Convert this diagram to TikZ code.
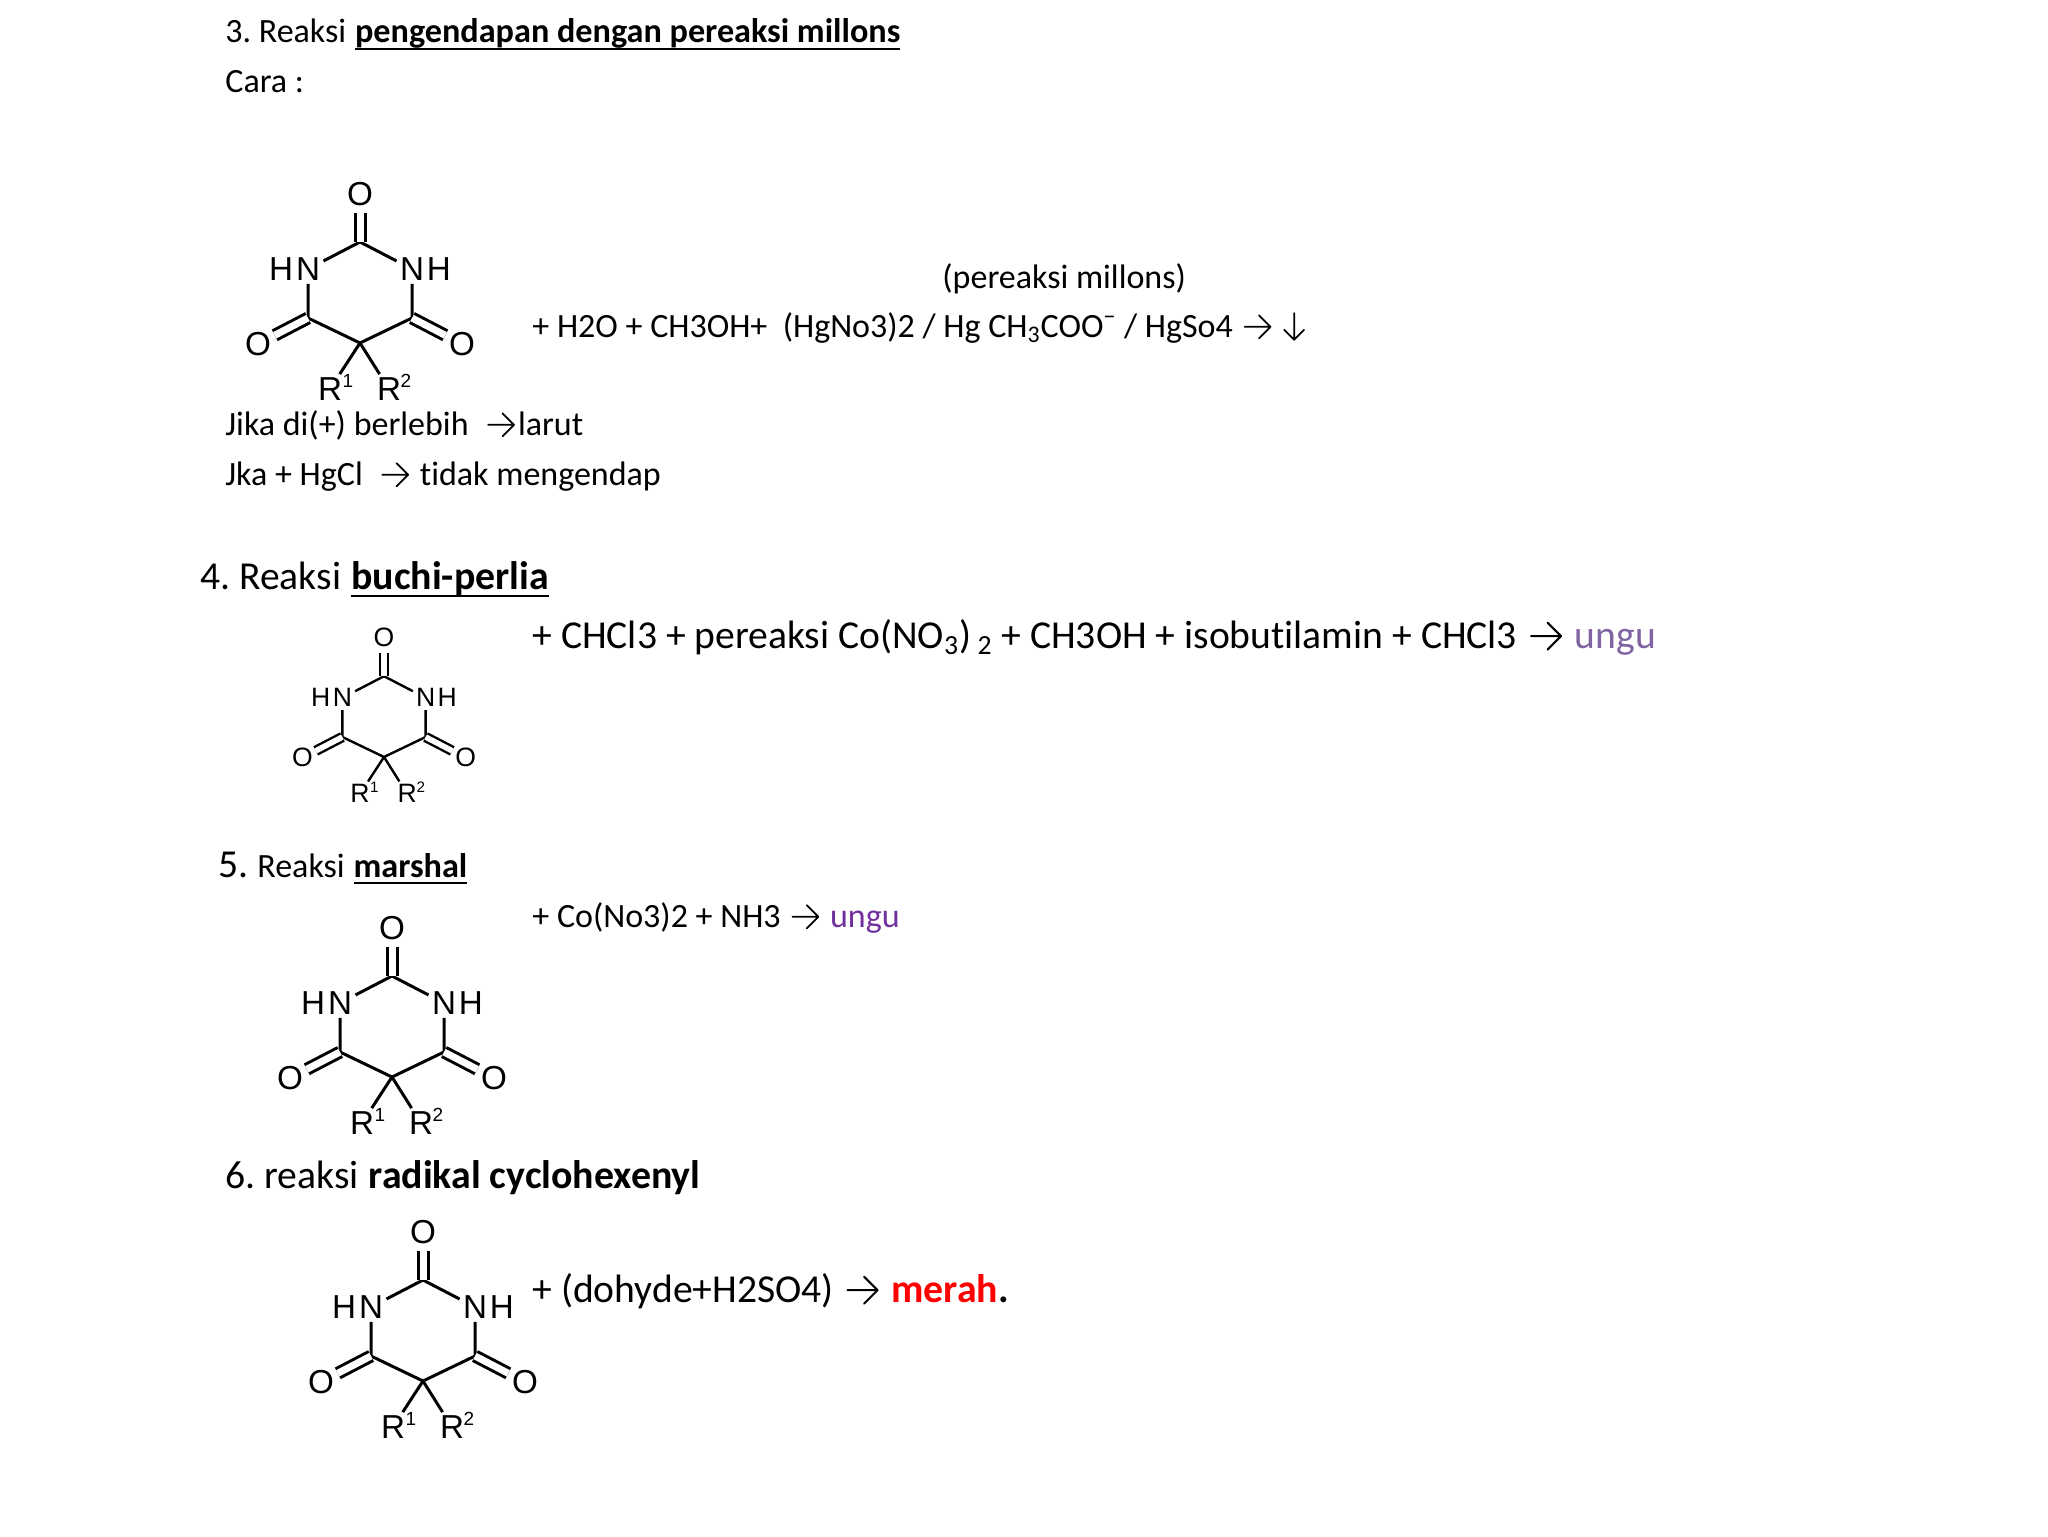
\documentclass[tikz,border=0pt]{standalone}
\usepackage{fontspec}
\setmainfont[Ligatures=NoCommon,BoldFeatures={Scale=1.006}]{Carlito}
\newfontfamily\arial{Liberation Sans}
\definecolor{unguA}{HTML}{8064A2}
\definecolor{unguB}{HTML}{7030A0}
\frenchspacing
\newcommand{\szA}{\fontsize{17}{20}\selectfont}
\newcommand{\szB}{\fontsize{19.8}{24}\selectfont}
\newcommand{\ul}[1]{\leavevmode\hspace{.6pt}\vtop{\hbox{\smash{\textbf{#1}}}\kern.145em\hrule height .05em}}
\newcommand{\ra}{\tikz[baseline=0pt,x=1em,y=1em,line width=.052em]{\useasboundingbox (0,0) rectangle (1,.6);\draw[black,line cap=round,line join=round] (.12,.3)--(.88,.3) (.54,.64)--(.88,.3)--(.54,-.04);}}
\newcommand{\da}{\tikz[baseline=0pt,x=1em,y=1em,line width=.052em]{\useasboundingbox (0,0) rectangle (.7,.6);\draw[black,line cap=round,line join=round] (.35,.7)--(.35,-.08) (.06,.21)--(.35,-.08)--(.64,.21);}}
\tikzset{
  x=0.5pt,y=-0.5pt,
  txt/.style={anchor=base west,inner sep=0pt,text=black},
  atom/.style={inner sep=1pt,text=black},
  oxy/.style={circle,inner sep=0pt,text=black},
  bond/.style={draw=black},
  dbl/.style={bond,double=white}
}
% x, y of the central carbon, scale, name
\newcommand{\barb}[4]{%
\pgfmathsetmacro{\fA}{16.6*#3}\pgfmathsetmacro{\fB}{9.5*#3}%
\begin{scope}[shift={(#1,#2)},scale=#3,name prefix=#4-,line width=#3*1.5pt,
  font=\arial\fontsize{\fA}{\fA}\selectfont,
  dbl/.append style={double distance=#3*3.5pt}]
\coordinate (c5) at (0,0);
\coordinate (c4) at (-52,-25);
\coordinate (c6) at (52,-25);
\coordinate (c2) at (0,-101);
\node[oxy] (o2) at (0,-149) {O};
\node[oxy] (o4) at (-102,1) {O};
\node[oxy] (o6) at (102,1) {O};
\node[atom] (n1) at (-52,-74) {N};
\node[atom,inner sep=0pt,anchor=east,xshift=1pt] (h1) at (n1.west) {H};
\node[atom] (n3) at (52,-74) {N};
\node[atom,inner sep=0pt,anchor=west,xshift=-1pt] (h3) at (n3.east) {H};
\node[atom] (r1) at (-30,46) {R};
\node[atom] (r2) at (29,46) {R};
\node[atom,font=\arial\fontsize{\fB}{\fB}\selectfont] (s1) at (-12,38) {1};
\node[atom,font=\arial\fontsize{\fB}{\fB}\selectfont] (s2) at (46,38) {2};
\draw[bond] (c2) -- (n1);
\draw[bond] (c2) -- (n3);
\draw[bond,line join=round] (n1) -- (c4) -- (c5) -- (c6) -- (n3);
\draw[bond] (c5) -- (r1);
\draw[bond] (c5) -- (r2);
\draw[dbl] (c2) -- (o2);
\draw[dbl] (c4) -- (o4);
\draw[dbl] (c6) -- (o6);
\end{scope}}
\begin{document}
\begin{tikzpicture}
\useasboundingbox[fill=white] (0,0) rectangle (2048,1536);
\node[txt,font=\szA] (t3) at (225,43) {3. Reaksi \ul{pengendapan dengan pereaksi millons}};
\node[txt,font=\szA] (cara) at (225,92) {Cara :};
\barb{360}{343}{1}{ma}
\node[txt,font=\szA] (pm) at (942,288) {(pereaksi millons)};
\node[txt,font=\szA] (r3) at (532,337) {+ H2O + CH3OH+~~(HgNo3)2 / Hg CH\textsubscript{3}COO\textsuperscript{−} / HgSo4 \ra{} \da};
\node[txt,font=\szA] (jika) at (225,435) {Jika di(+) berlebih ~\ra{}larut};
\node[txt,font=\szA] (jka) at (225,485) {Jka + HgCl ~\ra{} tidak mengendap};
\node[txt,font=\szB] (t4) at (200,589.5) {4. Reaksi \ul{buchi-perlia}};
\barb{384}{757}{0.8}{mb}
\node[txt,font=\szB] (r4) at (532,648) {+ CHCl3 + pereaksi Co(NO\textsubscript{3})\textsubscript{ 2} + CH3OH + isobutilamin + CHCl3 \ra{} \textcolor{unguA}{ungu}};
\node[txt,font=\szB] (t5) at (218,877) {5.};
\node[txt,font=\szA] (t5b) at (257,877) {Reaksi \ul{marshal}};
\node[txt,font=\szA] (r5) at (532,927) {+ Co(No3)2 + NH3 \ra{} \textcolor{unguB}{ungu}};
\barb{392}{1077}{1}{mc}
\node[txt,font=\szB] (t6) at (225,1188) {6. reaksi \hspace{.6pt}\textbf{radikal cyclohexenyl}};
\barb{423}{1381}{1}{md}
\node[txt,font=\szB] (r6) at (532,1302) {+ (dohyde+H2SO4) \ra{} \textcolor{red}{\textbf{merah}}\textbf{.}};
\end{tikzpicture}
\end{document}
